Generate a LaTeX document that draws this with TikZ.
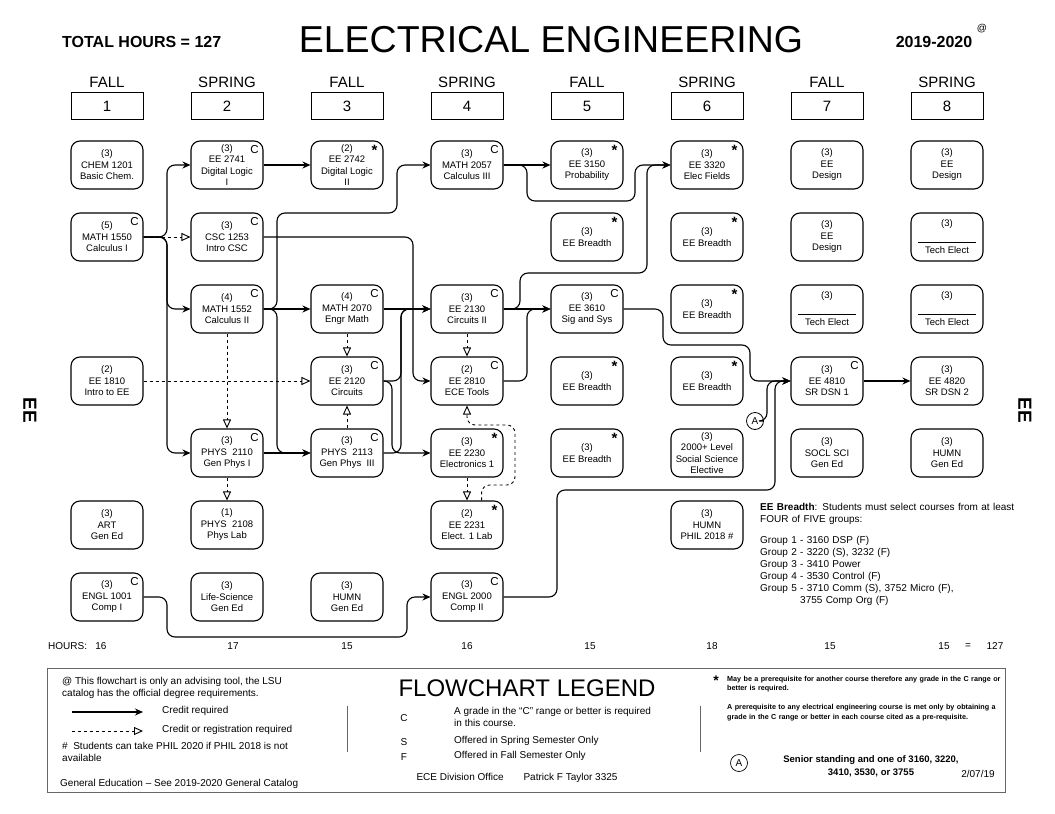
\documentclass[tikz,border=0pt]{standalone}
\usepackage{fontspec}
\setmainfont{Liberation Sans}
\usetikzlibrary{arrows.meta,calc}
\begin{document}
\begin{tikzpicture}[x=1pt,y=-1pt,
 c/.style={draw,line width=1.1pt,rounded corners=9pt,minimum width=72pt,minimum height=48pt,align=center,font=\fontsize{9.5}{11.5}\selectfont,inner sep=1pt},
 cc/.style={c,label={[anchor=center,xshift=-9pt,yshift=-9pt,font=\fontsize{11.5}{11.5}\selectfont]north east:C}},
 cs/.style={c,label={[anchor=center,xshift=-9pt,yshift=-10pt,font=\fontsize{15}{15}\selectfont\bfseries]north east:*}},
 sem/.style={draw,line width=0.8pt,minimum width=72pt,minimum height=27pt,font=\fontsize{15}{15}\selectfont},
 seml/.style={font=\fontsize{15}{15}\selectfont},
 sol/.style={line width=1.1pt,rounded corners=8pt,-{Stealth[length=8pt,width=7pt]}},
 dsh/.style={line width=0.9pt,dashed,rounded corners=8pt,-{Triangle[open,length=9pt,width=8pt]}},
 txt/.style={font=\fontsize{10}{12}\selectfont,inner sep=0pt}
]
\useasboundingbox (0,0) rectangle (1055,814);
% header
\node[font=\fontsize{16}{16}\selectfont\bfseries,anchor=west,inner sep=0pt] (th) at (62,42) {TOTAL HOURS = 127};
\node[font=\fontsize{37.5}{37.5}\selectfont] (title) at (551,40) {ELECTRICAL ENGINEERING};
\node[font=\fontsize{16}{16}\selectfont\bfseries] (yr) at (934,42) {2019-2020};
\node[font=\fontsize{10}{10}\selectfont] (at) at (982,29) {@};
\foreach \i/\s in {1/FALL,2/SPRING,3/FALL,4/SPRING,5/FALL,6/SPRING,7/FALL,8/SPRING}{
  \node[seml] (sl\i) at (107+120*\i-120,82) {\s};
  \node[sem] (sb\i) at (107+120*\i-120,106) {\i};
}
\node[font=\fontsize{19}{19}\selectfont\bfseries,rotate=-90] (eel) at (30,410) {EE};
\node[font=\fontsize{19}{19}\selectfont\bfseries,rotate=-90] (eer) at (1025,410) {EE};
% column 1
\node[c] (chem) at (107,165) {(3)\\CHEM 1201\\Basic Chem.};
\node[cc] (m1550) at (107,237) {(5)\\MATH 1550\\Calculus I};
\node[c] (ee1810) at (107,381) {(2)\\EE 1810\\Intro to EE};
\node[c] (art) at (107,525) {(3)\\ART\\Gen Ed};
\node[cc] (engl1) at (107,597) {(3)\\ENGL 1001\\Comp I};
% column 2
\node[cc] (ee2741) at (227,165) {(3)\\EE 2741\\Digital Logic\\I};
\node[cc] (csc) at (227,237) {(3)\\CSC 1253\\Intro CSC};
\node[cc] (m1552) at (227,309) {(4)\\MATH 1552\\Calculus II};
\node[cc] (p2110) at (227,453) {(3)\\PHYS\ \ 2110\\Gen Phys I};
\node[c] (p2108) at (227,525) {(1)\\PHYS\ \ 2108\\Phys Lab};
\node[c] (life) at (227,597) {(3)\\Life-Science\\Gen Ed};
% column 3
\node[cs] (ee2742) at (347,165) {(2)\\EE 2742\\Digital Logic\\II};
\node[cc] (m2070) at (347,309) {(4)\\MATH 2070\\Engr Math};
\node[cc] (ee2120) at (347,381) {(3)\\EE 2120\\Circuits};
\node[cc] (p2113) at (347,453) {(3)\\PHYS\ \ 2113\\Gen Phys\ \ III};
\node[c] (humn3) at (347,597) {(3)\\HUMN\\Gen Ed};
% column 4
\node[cc] (m2057) at (467,165) {(3)\\MATH 2057\\Calculus III};
\node[cc] (ee2130) at (467,309) {(3)\\EE 2130\\Circuits II};
\node[cc] (ee2810) at (467,381) {(2)\\EE 2810\\ECE Tools};
\node[cs] (ee2230) at (467,453) {(3)\\EE 2230\\Electronics 1};
\node[cs] (ee2231) at (467,525) {(2)\\EE 2231\\Elect. 1 Lab};
\node[cc] (engl2) at (467,597) {(3)\\ENGL 2000\\Comp II};
% column 5
\node[cs] (ee3150) at (587,165) {(3)\\EE 3150\\Probability};
\node[cs] (b51) at (587,237) {(3)\\EE Breadth};
\node[cc] (ee3610) at (587,309) {(3)\\EE 3610\\Sig and Sys};
\node[cs] (b52) at (587,381) {(3)\\EE Breadth};
\node[cs] (b53) at (587,453) {(3)\\EE Breadth};
% column 6
\node[cs] (ee3320) at (707,165) {(3)\\EE 3320\\Elec Fields};
\node[cs] (b61) at (707,237) {(3)\\EE Breadth};
\node[cs] (b62) at (707,309) {(3)\\EE Breadth};
\node[cs] (b63) at (707,381) {(3)\\EE Breadth};
\node[c] (soc) at (707,453) {(3)\\2000+ Level\\Social Science\\Elective};
\node[c] (phil) at (707,525) {(3)\\HUMN\\PHIL 2018 \#};
% column 7
\node[c] (d71) at (827,165) {(3)\\EE\\Design};
\node[c] (d72) at (827,237) {(3)\\EE\\Design};
\node[c] (t71) at (827,309) {(3)\\[4pt]\rule{58pt}{0.5pt}\\Tech Elect};
\node[cc] (ee4810) at (827,381) {(3)\\EE 4810\\SR DSN 1};
\node[c] (socl) at (827,453) {(3)\\SOCL SCI\\Gen Ed};
% column 8
\node[c] (d81) at (947,165) {(3)\\EE\\Design};
\node[c] (t81) at (947,237) {(3)\\[4pt]\rule{58pt}{0.5pt}\\Tech Elect};
\node[c] (t82) at (947,309) {(3)\\[4pt]\rule{58pt}{0.5pt}\\Tech Elect};
\node (ee4820) at (947,381) [c] {(3)\\EE 4820\\SR DSN 2};
\node[c] (humn8) at (947,453) {(3)\\HUMN\\Gen Ed};
\node[draw,circle,line width=0.8pt,inner sep=1pt,minimum size=17pt,font=\fontsize{10}{10}\selectfont] (A) at (755,421) {A};
% edges
\draw[sol] (m1550.east) -- (167,237) |- (ee2741.west);
\draw[dsh] (m1550.east) -- (csc.west);
\draw[sol] (m1550.east) -- (167,237) |- (m1552.west);
\draw[sol] (m1550.east) -- (167,237) |- (p2110.west);
\draw[sol] (ee2741) -- (ee2742);
\draw[sol] (m1552.east) -- (277,309) -- (277,213) -- (397,213) |- (m2057.west);
\draw[sol] (m1552) -- (m2070);
\draw[sol] (m1552.east) -- (277,309) |- (p2113.west);
\draw[sol] (csc.east) -- (413,237) |- (ee2810.west);
\draw[dsh] (m1552) -- (p2110);
\draw[dsh] (ee1810) -- (ee2120);
\draw[sol] (m2070) -- (ee2130);
\draw[dsh] (m2070) -- (ee2120);
\draw[dsh] (p2113) -- (ee2120);
\draw[sol] (p2110) -- (p2113);
\draw[dsh] (p2110) -- (p2108);
\draw[sol] (ee2120.east) -- (401,381) |- (ee2130.west);
\draw[sol] (ee2120.east) -- (392,381) |- (ee2230.west);
\draw[sol] (p2113.east) -- (401,453) |- (ee2130.west);
\draw[dsh] (ee2130) -- (ee2810);
\draw[dsh] (ee2230) -- (ee2231);
\draw[dsh] (ee2231.north east) ++(-22,0) |- (515,485) |- (467,425) -- (ee2810.south);
\draw[sol] (ee2130.east) -- (520,309) -- (520,273) -- (647,273) |- (ee3320.west);
\draw[sol] (ee2130) -- (ee3610);
\draw[sol] (ee2810.east) -- (527,381) |- (ee3610.west);
\draw[sol] (m2057) -- (ee3150);
\draw[sol] (m2057.east) -- (527,165) -- (527,201) -- (635,201) |- (ee3320.west);
\draw[sol] (ee3610.east) -- (663,309) -- (663,345) -- (750,345) |- (ee4810.west);
\draw[sol] (A.east) -| (767,381) -- (ee4810.west);
\draw[sol] (engl2.east) -- (557,597) -- (557,490) -- (775,490) |- (ee4810.west);
\draw[sol] (ee4810) -- (ee4820);
\draw[sol] (engl1.east) -- (167,597) -- (167,637) -- (407,637) |- (engl2.west);
% EE breadth text
\node[anchor=north west,align=left,text width=268pt,font=\fontsize{10}{12}\selectfont,inner sep=0pt] (eb) at (760,503) {\textbf{EE Breadth}: Students must select courses from at least FOUR of FIVE groups:\\[9pt]
Group 1 - 3160 DSP (F)\\Group 2 - 3220 (S), 3232 (F)\\Group 3 - 3410 Power\\Group 4 - 3530 Control (F)\\Group 5 - 3710 Comm (S), 3752 Micro (F),\\\hspace*{40pt}3755 Comp Org (F)};
% hours
\node[txt,anchor=west] (hl) at (48,646) {HOURS:\ \ \ 16};
\foreach \x/\h [count=\k] in {233/17,347/15,467/16,590/15,712/18,830/15,944/15}{\node[txt] (h\k) at (\x,646) {\h};}
\node[txt] (heq) at (968,646) {=};
\node[txt] (htot) at (995,646) {127};
% legend
\draw[line width=0.9pt,black!60] (47,668) rectangle (1005,792);
\draw[black!60] (347,706) -- (347,752) (700,706) -- (700,752);
\node[txt,anchor=north west,align=left] (l1) at (62,677) {@ This flowchart is only an advising tool, the LSU\\catalog has the official degree requirements.};
\coordinate (la1) at (72,712); \coordinate (la2) at (143,712);
\draw[sol] (la1) -- (la2);
\node[txt,anchor=west] (l2) at (162,711) {Credit required};
\coordinate (lb1) at (72,731); \coordinate (lb2) at (143,731);
\draw[dsh] (lb1) -- (lb2);
\node[txt,anchor=west] (l3) at (162,730) {Credit or registration required};
\node[txt,anchor=north west,align=left] (l4) at (62,742) {\#\ \ Students can take PHIL 2020 if PHIL 2018 is not\\available};
\node[txt,anchor=west] (l5) at (60,784) {General Education -- See 2019-2020 General Catalog};
\node[font=\fontsize{24}{24}\selectfont,inner sep=0pt] (lt) at (527,688) {FLOWCHART LEGEND};
\node[txt] (lc) at (404,718) {C};
\node[txt,anchor=north west,align=left] (lc2) at (454,707) {A grade in the ``C'' range or better is required\\in this course.};
\node[txt] (lsx) at (404,742) {S};
\node[txt,anchor=west] (ls2) at (454,741) {Offered in Spring Semester Only};
\node[txt] (lfx) at (404,757) {F};
\node[txt,anchor=west] (lf2) at (454,756) {Offered in Fall Semester Only};
\node[txt] (lo) at (517,778) {ECE Division Office\qquad Patrick F Taylor 3325};
\node[font=\fontsize{14}{14}\selectfont\bfseries,inner sep=0pt] (lst) at (716,681) {*};
\node[anchor=north west,align=left,font=\fontsize{7.2}{9}\selectfont\bfseries,text width=275pt,inner sep=0pt] (lp1) at (727,676) {May be a prerequisite for another course therefore any grade in the C range or better is required.};
\node[anchor=north west,align=left,font=\fontsize{7.2}{10}\selectfont\bfseries,text width=280pt,inner sep=0pt] (lp2) at (727,704) {A prerequisite to any electrical engineering course is met only by obtaining a grade in the C range or better in each course cited as a pre-requisite.};
\node[draw,circle,line width=0.7pt,inner sep=1pt,minimum size=17pt,font=\fontsize{10}{10}\selectfont] (lA) at (739,763) {A};
\node[align=center,font=\fontsize{9.5}{13}\selectfont\bfseries,inner sep=0pt] (lsen) at (871,766) {Senior standing and one of 3160, 3220,\\3410, 3530, or 3755};
\node[txt] (ld) at (978,774) {2/07/19};
\end{tikzpicture}
\end{document}
